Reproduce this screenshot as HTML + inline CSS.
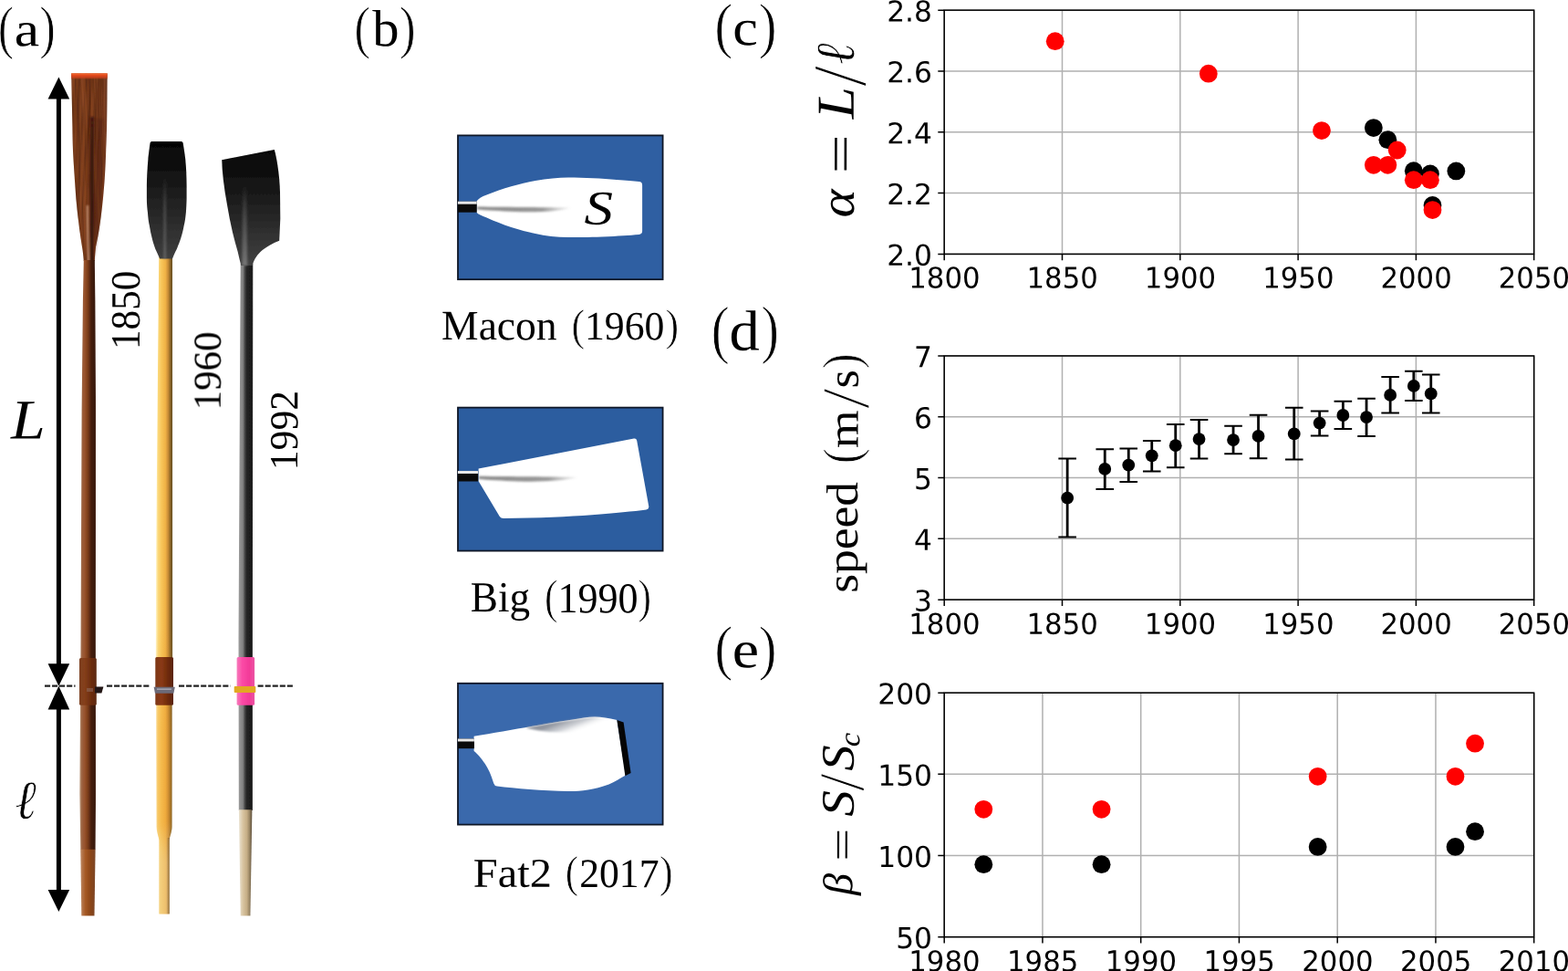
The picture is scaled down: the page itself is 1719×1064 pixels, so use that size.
<!DOCTYPE html>
<html lang="en">
<head>
<meta charset="utf-8">
<title>Oar evolution figure</title>
<style>
html,body{margin:0;padding:0;background:#fff;}
body{width:1719px;height:1064px;overflow:hidden;}
svg{display:block;}
text{white-space:pre;text-rendering:geometricPrecision;}
</style>
</head>
<body>
<svg width="1719" height="1064" viewBox="0 0 1719 1064">
<rect x="0" y="0" width="1719" height="1064" fill="#ffffff"/>
<defs>
<linearGradient id="o1blade" gradientUnits="userSpaceOnUse" x1="78" y1="0" x2="117.5" y2="0">
 <stop offset="0" stop-color="#8d5030"/><stop offset="0.06" stop-color="#7a3c1a"/><stop offset="0.2" stop-color="#6f3416"/>
 <stop offset="0.32" stop-color="#844220"/><stop offset="0.42" stop-color="#7a3a18"/><stop offset="0.5" stop-color="#6a3014"/>
 <stop offset="0.62" stop-color="#7e3e1c"/><stop offset="0.75" stop-color="#6c3216"/><stop offset="0.9" stop-color="#783a1e"/><stop offset="1" stop-color="#7a4630"/>
</linearGradient>
<linearGradient id="o1red" x1="0" y1="0" x2="0" y2="1">
 <stop offset="0" stop-color="#f4703c"/><stop offset="0.35" stop-color="#e2481c"/><stop offset="0.7" stop-color="#c8401a" stop-opacity="0.85"/><stop offset="1" stop-color="#8a3a18" stop-opacity="0"/>
</linearGradient>
<filter id="grain" x="0" y="0" width="100%" height="100%" color-interpolation-filters="sRGB">
 <feTurbulence type="fractalNoise" baseFrequency="0.42 0.018" numOctaves="2" seed="7" result="n"/>
 <feColorMatrix in="n" type="matrix" values="0 0 0 0 0.16  0 0 0 0 0.06  0 0 0 0 0.02  1.9 0 0 0 -0.62" result="d"/>
 <feComposite in="d" in2="SourceGraphic" operator="in"/>
</filter>
<filter id="grainL" x="0" y="0" width="100%" height="100%" color-interpolation-filters="sRGB">
 <feTurbulence type="fractalNoise" baseFrequency="0.5 0.02" numOctaves="2" seed="23" result="n"/>
 <feColorMatrix in="n" type="matrix" values="0 0 0 0 0.72  0 0 0 0 0.40  0 0 0 0 0.22  0 1.8 0 0 -0.72" result="d"/>
 <feComposite in="d" in2="SourceGraphic" operator="in"/>
</filter>
<linearGradient id="o1shaft" gradientUnits="userSpaceOnUse" x1="88" y1="0" x2="105.5" y2="0">
 <stop offset="0" stop-color="#b48c6e"/><stop offset="0.1" stop-color="#9c6240"/><stop offset="0.28" stop-color="#98522c"/>
 <stop offset="0.48" stop-color="#7a3c1a"/><stop offset="0.68" stop-color="#46200e"/><stop offset="0.88" stop-color="#38180c"/><stop offset="1" stop-color="#5c3c30"/>
</linearGradient>
<linearGradient id="o1sleeve" gradientUnits="userSpaceOnUse" x1="87" y1="0" x2="106" y2="0">
 <stop offset="0" stop-color="#7d4222"/><stop offset="0.3" stop-color="#853e1a"/><stop offset="0.7" stop-color="#6a2c0e"/><stop offset="1" stop-color="#5c2c14"/>
</linearGradient>
<linearGradient id="o1low" gradientUnits="userSpaceOnUse" x1="89" y1="0" x2="104" y2="0">
 <stop offset="0" stop-color="#b98058"/><stop offset="0.3" stop-color="#a65a26"/><stop offset="0.7" stop-color="#8a4418"/><stop offset="1" stop-color="#7d4626"/>
</linearGradient>
<linearGradient id="o2blade" x1="0" y1="0" x2="0" y2="1">
 <stop offset="0" stop-color="#040404"/><stop offset="0.3" stop-color="#141414"/><stop offset="1" stop-color="#3e3e3e"/>
</linearGradient>
<linearGradient id="o2shaft" gradientUnits="userSpaceOnUse" x1="171" y1="0" x2="189.5" y2="0">
 <stop offset="0" stop-color="#fff4c8"/><stop offset="0.13" stop-color="#fbd87a"/><stop offset="0.32" stop-color="#f8c65a"/>
 <stop offset="0.56" stop-color="#f0b246"/><stop offset="0.72" stop-color="#c88c36"/><stop offset="0.86" stop-color="#866226"/><stop offset="1" stop-color="#5e4a22"/>
</linearGradient>
<linearGradient id="o2sleeve" gradientUnits="userSpaceOnUse" x1="170" y1="0" x2="190" y2="0">
 <stop offset="0" stop-color="#7c3618"/><stop offset="0.35" stop-color="#8a3a14"/><stop offset="0.75" stop-color="#6a280c"/><stop offset="1" stop-color="#5a2810"/>
</linearGradient>
<linearGradient id="o2warm" gradientUnits="userSpaceOnUse" x1="0" y1="690" x2="0" y2="930">
 <stop offset="0" stop-color="#ee9c2a" stop-opacity="0"/><stop offset="0.45" stop-color="#ee9c2a" stop-opacity="0.28"/><stop offset="0.9" stop-color="#ee9c2a" stop-opacity="0.3"/><stop offset="1" stop-color="#ee9c2a" stop-opacity="0"/>
</linearGradient>
<linearGradient id="o2edge" gradientUnits="userSpaceOnUse" x1="182.6" y1="0" x2="186" y2="0">
 <stop offset="0" stop-color="#8a6a3a" stop-opacity="0"/><stop offset="1" stop-color="#7a5c30" stop-opacity="0.75"/>
</linearGradient>
<linearGradient id="o2low" gradientUnits="userSpaceOnUse" x1="0" y1="900" x2="0" y2="945">
 <stop offset="0" stop-color="#ecd4a4" stop-opacity="0"/><stop offset="1" stop-color="#ecd4a4" stop-opacity="0.42"/>
</linearGradient>
<linearGradient id="ridge2" gradientUnits="userSpaceOnUse" x1="0" y1="190" x2="0" y2="284">
 <stop offset="0" stop-color="#666" stop-opacity="0"/><stop offset="0.4" stop-color="#6a6a6a" stop-opacity="0.45"/><stop offset="1" stop-color="#777" stop-opacity="0.6"/>
</linearGradient>
<linearGradient id="ridge3" gradientUnits="userSpaceOnUse" x1="0" y1="200" x2="0" y2="291">
 <stop offset="0" stop-color="#666" stop-opacity="0"/><stop offset="0.4" stop-color="#6a6a6a" stop-opacity="0.45"/><stop offset="1" stop-color="#858585" stop-opacity="0.75"/>
</linearGradient>
<linearGradient id="o3blade" x1="0" y1="0" x2="0" y2="1">
 <stop offset="0" stop-color="#050505"/><stop offset="0.35" stop-color="#171717"/><stop offset="1" stop-color="#424242"/>
</linearGradient>
<linearGradient id="o3shaft" gradientUnits="userSpaceOnUse" x1="261.5" y1="0" x2="277.5" y2="0">
 <stop offset="0" stop-color="#9c9c9c"/><stop offset="0.3" stop-color="#808080"/><stop offset="0.42" stop-color="#4a4a4a"/>
 <stop offset="0.55" stop-color="#262626"/><stop offset="0.85" stop-color="#1c1c1c"/><stop offset="1" stop-color="#2a2a2a"/>
</linearGradient>
<linearGradient id="o3pink" gradientUnits="userSpaceOnUse" x1="259.5" y1="0" x2="279.5" y2="0">
 <stop offset="0" stop-color="#f77cbc"/><stop offset="0.3" stop-color="#fb4aa6"/><stop offset="0.7" stop-color="#f23a98"/><stop offset="1" stop-color="#ea58a4"/>
</linearGradient>
<linearGradient id="o3handle" gradientUnits="userSpaceOnUse" x1="262.5" y1="0" x2="275.5" y2="0">
 <stop offset="0" stop-color="#e8dfcc"/><stop offset="0.3" stop-color="#d8c4a0"/><stop offset="0.62" stop-color="#c6ae86"/><stop offset="0.84" stop-color="#9c8866"/><stop offset="1" stop-color="#6e5e48"/>
</linearGradient>
<clipPath id="o2clip"><path d="M174.2 282L189 282L189.1 720L188.6 772L188.5 906C188.3 913 186 916 185.7 921L185.7 1001.6L174.4 1001.6L174.4 921C174 916 171.8 913 171.6 906L171.2 772L170.8 720L171.2 600L172.6 450Z"/></clipPath>
<filter id="soft" x="-20%" y="-2%" width="140%" height="104%"><feGaussianBlur stdDeviation="0.65"/></filter>
<filter id="soft2" x="-50%" y="-5%" width="200%" height="110%"><feGaussianBlur stdDeviation="0.9"/></filter>
</defs>
<g id="panel-a">
<path d="M49 751.7H82.5M117 751.7H164.2M196 751.7H252.6M282.6 751.7H321" stroke="#222" stroke-width="2.2" stroke-dasharray="6.1 1.95" fill="none"/>
<path d="M64.4 100V735M64.4 770V985" stroke="#000" stroke-width="5" fill="none"/>
<path d="M64.4 84.6L76.2 108.4H52.6ZM64.4 751.7L52.6 727.2H76.2ZM64.4 751.7L76.2 777.4H52.6ZM64.4 999L52.6 974.9H76.2Z" fill="#000"/>
<g filter="url(#soft)">
<path d="M78.2 80.4H117.7L117.1 139C116.8 152 116.5 160 116.2 165.3C115.9 175 115.5 184 115 191.6C114.4 201 113.7 210 112.9 217.9C112 227 110.9 236 109.7 244.2C108.3 254 106.7 263 105 270.5C104.5 275 104 280 103.8 286L91.8 286C91.4 280 90.8 275 90 270.5C88.5 262 87.3 253 86.3 244.2C85.1 235 84.2 226 83.4 217.9C82.7 209 82.1 200 81.6 191.6C81 182 80.4 173 80 165.3C79.7 157 79.5 148 79.4 139Z" fill="url(#o1blade)"/>
<path d="M78.2 80.4H117.7L117.1 139C116.8 152 116.5 160 116.2 165.3C115.9 175 115.5 184 115 191.6C114.4 201 113.7 210 112.9 217.9C112 227 110.9 236 109.7 244.2C108.3 254 106.7 263 105 270.5C104.5 275 104 280 103.8 286L91.8 286C91.4 280 90.8 275 90 270.5C88.5 262 87.3 253 86.3 244.2C85.1 235 84.2 226 83.4 217.9C82.7 209 82.1 200 81.6 191.6C81 182 80.4 173 80 165.3C79.7 157 79.5 148 79.4 139Z" fill="#000" filter="url(#grain)" opacity="0.42"/>
<path d="M78.2 80.4H117.7L117.1 139C116.8 152 116.5 160 116.2 165.3C115.9 175 115.5 184 115 191.6C114.4 201 113.7 210 112.9 217.9C112 227 110.9 236 109.7 244.2C108.3 254 106.7 263 105 270.5C104.5 275 104 280 103.8 286L91.8 286C91.4 280 90.8 275 90 270.5C88.5 262 87.3 253 86.3 244.2C85.1 235 84.2 226 83.4 217.9C82.7 209 82.1 200 81.6 191.6C81 182 80.4 173 80 165.3C79.7 157 79.5 148 79.4 139Z" fill="#000" filter="url(#grainL)" opacity="0.4"/>
<path d="M99.2 128C99 180 98.8 240 98.6 290L102.6 290C103.4 240 103.4 180 102.8 128Z" fill="#36140a" opacity="0.9" filter="url(#soft2)"/>
<path d="M103 130C104 180 104 230 103.4 286L109 250C111 225 112.5 200 113.5 170L114 130Z" fill="#4a1e0c" opacity="0.28" filter="url(#soft2)"/>
<path d="M94.8 225C95 250 95.8 275 96.4 294L98.4 294C97.8 275 97 250 96.8 225Z" fill="#e0ac8c" opacity="0.85" filter="url(#soft2)"/>
<rect x="78.2" y="80.2" width="39.5" height="7.2" fill="url(#o1red)"/>
<path d="M91.8 285L103.8 285L104.4 330L105.1 450L104.9 700L105.1 870L104.6 931L88.3 931L87.4 870L88.5 700L89.6 450L90.9 330Z" fill="url(#o1shaft)"/>
<path d="M88.3 930.7H104.6L103.5 1003.5H89.3Z" fill="url(#o1low)"/>
<rect x="87" y="721" width="18.8" height="51.7" rx="1.5" fill="url(#o1sleeve)"/>
<path d="M104 752.6H113.4L111.4 759.4H104Z" fill="#221612"/>
<path d="M95 754H102V758H95Z" fill="#8a6050" opacity="0.7"/>
</g>
<g filter="url(#soft)">
<path d="M174.2 282L189 282L189.1 720L188.6 772L188.5 906C188.3 913 186 916 185.7 921L185.7 1001.6L174.4 1001.6L174.4 921C174 916 171.8 913 171.6 906L171.2 772L170.8 720L171.2 600L172.6 450Z" fill="url(#o2shaft)"/>
<path d="M171 690H190V930H171Z" fill="url(#o2warm)" clip-path="url(#o2clip)"/>
<path d="M171 900H189V1001.6H171Z" fill="url(#o2low)" clip-path="url(#o2clip)"/>
<path d="M182.6 918H186V1001.6H182.6Z" fill="url(#o2edge)" clip-path="url(#o2clip)"/>
<path d="M166.3 155H198.8Q200.3 155 200.6 156.5C202 165 202.8 170 203.2 174.1C204.2 184 204.6 194 204.6 203.3L204.6 217.8C204.5 223 204.3 228 203.9 232.4C203.4 238 202.7 243 201.7 247C200.8 252 199.6 257 198.1 261.5C197.3 264 196.4 266.5 195.4 268.8C194.4 271.5 193.4 274 192.2 276.1C191.2 278.5 190.1 280.7 189 283.5L175.1 283.5C173.9 280.7 172.8 278.5 171.8 276.1C170.7 274 169.8 271.5 168.9 268.8C168.1 266.5 167.4 264 166.8 261.5C165.6 257 164.6 252 163.8 247C162.9 243 162.3 238 161.9 232.4C161.3 228 160.9 223 160.9 217.8L160.9 203.3C161 194 161.6 184 162.4 174.1C162.8 170 163.4 165 164.6 156.5Q164.9 155 166.3 155Z" fill="url(#o2blade)"/>
<path d="M179.2 190H182.2V284H179.2Z" fill="url(#ridge2)" filter="url(#soft2)"/>
<path d="M183.2 175V284" stroke="#000" stroke-width="2" opacity="0.75" filter="url(#soft2)"/>
<rect x="170.3" y="720" width="19.7" height="52.7" rx="1.5" fill="url(#o2sleeve)"/>
<path d="M168.6 752.8H191.8L190.4 759.8H170Z" fill="#6c6a78"/>
<path d="M172 755.2H188" stroke="#b8b8c4" stroke-width="1.4" opacity="0.8"/>
</g>
<g filter="url(#soft)">
<path d="M263.7 289L277.3 289L276.9 700L276.9 888L261.8 888L261.5 700Z" fill="url(#o3shaft)"/>
<path d="M243.2 175.3L300.8 163.9C302.5 170 303.6 176 304.4 181.4C306 192 306.8 202 307 210.6L307.3 239.7L306.2 263.7C302.5 265.2 299 266.8 295.7 268.8C291.8 271 288.4 273.4 285.5 276.1C283.2 278.3 281.2 280.7 279.6 283.4C278.4 285.6 277.4 288 276.7 291L264.3 291C263 286 261.8 281 260.7 276.1C258.6 268.8 256.7 261.5 254.9 254.2C252.7 244.6 250.7 234.9 249.1 225.1C247.3 215.4 245.8 205.7 244.7 196C243.9 189 243.4 182 243.2 175.3Z" fill="url(#o3blade)"/>
<path d="M266.2 200H270.2L271.2 291H265.4Z" fill="url(#ridge3)" filter="url(#soft2)"/>
<rect x="259.6" y="720" width="19.5" height="52.7" rx="1.5" fill="url(#o3pink)"/>
<rect x="256.7" y="752" width="23.6" height="7" rx="1" fill="#e2a822"/>
<path d="M261.9 887.3H276.4L274.4 1003.5H263.7Z" fill="url(#o3handle)"/>
</g>
<g id="label-a"><text transform="matrix(0.52163 0.00063 0 0.64721 -2.34584 51.65)" font-family="Liberation Serif, serif" font-size="100" fill="#000" stroke="#fff" stroke-width="1.5">(</text><text transform="matrix(0.61576 0.00114 0 0.53842 15.75 50.13)" font-family="Liberation Serif, serif" font-size="100" fill="#000">a</text><text transform="matrix(0.53149 0.00063 0 0.64685 43.28 51.46)" font-family="Liberation Serif, serif" font-size="100" fill="#000" stroke="#fff" stroke-width="1.5">)</text></g>
<g id="label-L"><text transform="matrix(0.6781 0.00082 0 0.6166 11.90 480.53)" font-family="Liberation Serif, serif" font-size="100" font-style="italic" fill="#000">L</text></g>
<g id="label-ell"><text transform="matrix(0.56641 0.00082 0 0.60035 16.21 896.95)" font-family="Liberation Serif, serif" font-size="100" font-style="italic" fill="#000" stroke="#fff" stroke-width="1.2">ℓ</text></g>
<g id="year-1850"><text transform="matrix(0.0008 -0.43184 0.45651 0 152.48 383.03)" font-family="Liberation Serif, serif" font-size="100" fill="#000">1850</text></g>
<g id="year-1960"><text transform="matrix(0.0008 -0.43067 0.4311 0 242.08 449.43)" font-family="Liberation Serif, serif" font-size="100" fill="#000">1960</text></g>
<g id="year-1992"><text transform="matrix(0.00081 -0.43581 0.44047 0 326.07 515.19)" font-family="Liberation Serif, serif" font-size="100" fill="#000">1992</text></g>
</g>
<defs>
<linearGradient id="spine1" gradientUnits="userSpaceOnUse" x1="522" y1="0" x2="626" y2="0">
 <stop offset="0" stop-color="#666" stop-opacity="0.75"/><stop offset="0.7" stop-color="#808080" stop-opacity="0.8"/><stop offset="1" stop-color="#999" stop-opacity="0.1"/>
</linearGradient>
<linearGradient id="spine2" gradientUnits="userSpaceOnUse" x1="524" y1="0" x2="634" y2="0">
 <stop offset="0" stop-color="#666" stop-opacity="0.75"/><stop offset="0.7" stop-color="#808080" stop-opacity="0.8"/><stop offset="1" stop-color="#999" stop-opacity="0.1"/>
</linearGradient>
<linearGradient id="shade3" gradientUnits="userSpaceOnUse" x1="622" y1="788" x2="628" y2="804">
 <stop offset="0" stop-color="#858a94" stop-opacity="0.9"/><stop offset="0.5" stop-color="#b0b4bc" stop-opacity="0.6"/><stop offset="1" stop-color="#fff" stop-opacity="0"/>
</linearGradient>
<filter id="blur1" x="-10%" y="-60%" width="120%" height="220%"><feGaussianBlur stdDeviation="0.8"/></filter>
<filter id="blurS" x="-5%" y="-5%" width="110%" height="110%"><feGaussianBlur stdDeviation="0.5"/></filter>
</defs>
<g id="panel-b">
<rect x="502.0" y="148.4" width="224.6" height="157.8" fill="#2f5fa2" stroke="#0e1626" stroke-width="1.8"/>
<path d="M522.5 220.5C524 218 528 215.5 533.6 213.5C551 206.5 570 201 587 198C600 195.8 612 194.8 623 194.6C640 194.6 660 195.8 676 197C686 197.8 694 198.4 700.5 199Q704.1 199.3 704.1 202.8L704.1 253.3Q704.1 256.6 700.5 257C690 258 678 258.7 660 259.5C645 260 632 260 623 260C610 259.8 598 258.6 587 256C570 252.5 551 246.5 533.6 238.5C528 236.5 524 234.5 522.5 232.7Z" fill="#fff" filter="url(#blurS)"/>
<path d="M523 226.6C560 227 600 227.2 626 227.8C612 231.6 590 233 565 232C548 231.4 532 230.4 523 229.6Z" fill="url(#spine1)" filter="url(#blur1)"/>
<rect x="501.9" y="220.7" width="20.8" height="12" fill="#0a0a0a"/><rect x="501.9" y="220.7" width="20.8" height="3" fill="#e8e8e8"/>
<g id="label-S"><text transform="matrix(0.63065 0.00081 0 0.53072 640.61 245.64)" font-family="Liberation Serif, serif" font-size="100" font-style="italic" fill="#000">S</text></g>
<g id="label-macon"><text transform="matrix(0.45557 0.00081 0 0.46134 484.12 372.03)" font-family="Liberation Serif, serif" font-size="100" fill="#000">Macon </text><text transform="matrix(0.4424 0.00062 0 0.49026 626.60 372.74)" font-family="Liberation Serif, serif" font-size="100" fill="#000" stroke="#fff" stroke-width="1.5">(</text><text transform="matrix(0.43768 0.0008 0 0.4422 640.97 372.04)" font-family="Liberation Serif, serif" font-size="100" fill="#000">1960</text><text transform="matrix(0.43855 0.00062 0 0.48963 729.44 372.73)" font-family="Liberation Serif, serif" font-size="100" fill="#000" stroke="#fff" stroke-width="1.5">)</text></g>
<rect x="502.0" y="446.6" width="224.6" height="157.0" fill="#2c5d9f" stroke="#0e1626" stroke-width="1.8"/>
<path d="M524.6 513.6L695 480.6Q697.6 480.2 698.2 482.8L711.2 554.5Q711.8 557.8 708.5 558.5C680 562 630 567.3 552 568Q549 568 547.8 566L524.6 527.3Z" fill="#fff" filter="url(#blurS)"/>
<path d="M525 521.8C560 522.2 605 522.4 633 523C617 527 593 528.2 568 527.4C550 526.8 534 525.8 525 525Z" fill="url(#spine2)" filter="url(#blur1)"/>
<rect x="501.9" y="516" width="22.3" height="11.5" fill="#0a0a0a"/><rect x="501.9" y="516" width="22.3" height="3" fill="#e8e8e8"/>
<g id="label-big"><text transform="matrix(0.45226 0.00062 0 0.47041 515.81 670.05)" font-family="Liberation Serif, serif" font-size="100" fill="#000">Big </text><text transform="matrix(0.43615 0.00062 0 0.52503 597.04 671.60)" font-family="Liberation Serif, serif" font-size="100" fill="#000" stroke="#fff" stroke-width="1.5">(</text><text transform="matrix(0.44069 0.0008 0 0.46886 611.52 671.12)" font-family="Liberation Serif, serif" font-size="100" fill="#000">1990</text><text transform="matrix(0.43525 0.00062 0 0.51951 699.62 671.17)" font-family="Liberation Serif, serif" font-size="100" fill="#000" stroke="#fff" stroke-width="1.5">)</text></g>
<rect x="502.0" y="748.8" width="224.6" height="154.8" fill="#3a69ac" stroke="#0e1626" stroke-width="1.8"/>
<path d="M519.6 806.8C560 800 610 791 640 786.5C652 784.5 662 785.5 676.4 788.9L686 849.5C680 853 674 856.5 667.5 859.5C650 866 635 867.3 622.9 867.1C595 866.5 565 864 545 861.5Q542 861 541.3 858.5C538 848 535 842 531.8 837.1C528 831 523 825.5 519.6 822.9Z" fill="#fff" filter="url(#blurS)"/>
<path d="M576 797.2C600 793 627 788.6 645 786.2C655 785.2 662 786 670 788C668 796.5 652 802 630 802.6C606 803 588 801 576 797.2Z" fill="url(#shade3)" filter="url(#blur1)"/>
<path d="M676.4 788.9L683.6 791.6L691.6 847L685.4 850.2Z" fill="#050505"/>
<rect x="501.9" y="809.5" width="18" height="10.7" fill="#0a0a0a"/><rect x="501.9" y="809.5" width="18" height="3" fill="#e8e8e8"/>
<g id="label-fat2"><text transform="matrix(0.48442 0.0008 0 0.4514 518.82 971.76)" font-family="Liberation Serif, serif" font-size="100" fill="#000">Fat2 </text><text transform="matrix(0.43264 0.00062 0 0.49472 619.81 971.95)" font-family="Liberation Serif, serif" font-size="100" fill="#000" stroke="#fff" stroke-width="1.5">(</text><text transform="matrix(0.43689 0.0008 0 0.44858 635.14 972.02)" font-family="Liberation Serif, serif" font-size="100" fill="#000">2017</text><text transform="matrix(0.45109 0.00062 0 0.49543 722.66 972.06)" font-family="Liberation Serif, serif" font-size="100" fill="#000" stroke="#fff" stroke-width="1.5">)</text></g>
<g id="label-b"><text transform="matrix(0.53884 0.00063 0 0.64247 388.20 51.50)" font-family="Liberation Serif, serif" font-size="100" fill="#000" stroke="#fff" stroke-width="1.5">(</text><text transform="matrix(0.58561 0.00077 0 0.56721 408.17 50.36)" font-family="Liberation Serif, serif" font-size="100" fill="#000">b</text><text transform="matrix(0.54198 0.00062 0 0.64233 437.64 51.49)" font-family="Liberation Serif, serif" font-size="100" fill="#000" stroke="#fff" stroke-width="1.5">)</text></g>
</g>
<g id="chart-c">
<path d="M1035.20 11.15V278.40M1164.50 11.15V278.40M1293.80 11.15V278.40M1423.10 11.15V278.40M1552.40 11.15V278.40M1681.70 11.15V278.40M1035.20 278.40H1681.70M1035.20 211.59H1681.70M1035.20 144.77H1681.70M1035.20 77.96H1681.70M1035.20 11.15H1681.70" stroke="#b0b0b0" stroke-width="1.5" fill="none"/>
<circle cx="1505.85" cy="140.10" r="9.9" fill="#000"/>
<circle cx="1521.37" cy="153.16" r="9.9" fill="#000"/>
<circle cx="1549.81" cy="187.20" r="9.9" fill="#000"/>
<circle cx="1567.92" cy="190.47" r="9.9" fill="#000"/>
<circle cx="1570.50" cy="224.95" r="9.9" fill="#000"/>
<circle cx="1596.36" cy="187.43" r="9.9" fill="#000"/>
<circle cx="1156.74" cy="45.22" r="9.9" fill="#ff0000"/>
<circle cx="1324.83" cy="80.63" r="9.9" fill="#ff0000"/>
<circle cx="1448.96" cy="143.10" r="9.9" fill="#ff0000"/>
<circle cx="1505.85" cy="180.79" r="9.9" fill="#ff0000"/>
<circle cx="1521.37" cy="180.79" r="9.9" fill="#ff0000"/>
<circle cx="1531.71" cy="164.52" r="9.9" fill="#ff0000"/>
<circle cx="1549.81" cy="197.16" r="9.9" fill="#ff0000"/>
<circle cx="1567.92" cy="197.16" r="9.9" fill="#ff0000"/>
<circle cx="1570.50" cy="230.06" r="9.9" fill="#ff0000"/>
<path d="M1035.20 278.40v6.9M1164.50 278.40v6.9M1293.80 278.40v6.9M1423.10 278.40v6.9M1552.40 278.40v6.9M1681.70 278.40v6.9M1035.20 278.40h-6.9M1035.20 211.59h-6.9M1035.20 144.77h-6.9M1035.20 77.96h-6.9M1035.20 11.15h-6.9" stroke="#000" stroke-width="1.5" fill="none"/>
<rect x="1035.20" y="11.15" width="646.50" height="267.25" fill="none" stroke="#000" stroke-width="1.5"/>
<g font-family="DejaVu Sans, Liberation Sans, sans-serif" font-size="31.5" fill="#000">
<text transform="matrix(0.977 0.0006 0 1 1035.40 315.60)" text-anchor="middle">1800</text>
<text transform="matrix(0.977 0.0006 0 1 1164.70 315.60)" text-anchor="middle">1850</text>
<text transform="matrix(0.977 0.0006 0 1 1294.00 315.60)" text-anchor="middle">1900</text>
<text transform="matrix(0.977 0.0006 0 1 1423.30 315.60)" text-anchor="middle">1950</text>
<text transform="matrix(0.977 0.0006 0 1 1552.60 315.60)" text-anchor="middle">2000</text>
<text transform="matrix(0.977 0.0006 0 1 1681.90 315.60)" text-anchor="middle">2050</text>
<text transform="matrix(0.994 0.0006 0 1 1022.00 290.80)" text-anchor="end">2.0</text>
<text transform="matrix(0.994 0.0006 0 1 1022.00 223.99)" text-anchor="end">2.2</text>
<text transform="matrix(0.994 0.0006 0 1 1022.00 157.17)" text-anchor="end">2.4</text>
<text transform="matrix(0.994 0.0006 0 1 1022.00 90.36)" text-anchor="end">2.6</text>
<text transform="matrix(0.994 0.0006 0 1 1022.00 23.55)" text-anchor="end">2.8</text>
</g>
</g>
<g id="chart-d">
<path d="M1035.20 389.95V657.15M1164.50 389.95V657.15M1293.80 389.95V657.15M1423.10 389.95V657.15M1552.40 389.95V657.15M1681.70 389.95V657.15M1035.20 657.15H1681.70M1035.20 590.35H1681.70M1035.20 523.55H1681.70M1035.20 456.75H1681.70M1035.20 389.95H1681.70" stroke="#b0b0b0" stroke-width="1.5" fill="none"/>
<path d="M1170.15 502.50V588.60M1211.25 492.20V536.10M1237.25 491.50V527.90M1262.75 482.90V516.50M1288.75 465.00V512.20M1314.55 460.00V502.50M1352.05 466.80V497.20M1379.55 454.70V502.20M1418.75 446.80V503.60M1446.65 450.40V477.50M1472.35 439.70V470.00M1498.05 436.80V477.90M1524.15 412.90V452.50M1549.85 406.80V439.00M1568.75 410.40V452.50" stroke="#000" stroke-width="2.8" fill="none"/>
<path d="M1160.35 502.50h19.6M1160.35 588.60h19.6M1201.45 492.20h19.6M1201.45 536.10h19.6M1227.45 491.50h19.6M1227.45 527.90h19.6M1252.95 482.90h19.6M1252.95 516.50h19.6M1278.95 465.00h19.6M1278.95 512.20h19.6M1304.75 460.00h19.6M1304.75 502.50h19.6M1342.25 466.80h19.6M1342.25 497.20h19.6M1369.75 454.70h19.6M1369.75 502.20h19.6M1408.95 446.80h19.6M1408.95 503.60h19.6M1436.85 450.40h19.6M1436.85 477.50h19.6M1462.55 439.70h19.6M1462.55 470.00h19.6M1488.25 436.80h19.6M1488.25 477.90h19.6M1514.35 412.90h19.6M1514.35 452.50h19.6M1540.05 406.80h19.6M1540.05 439.00h19.6M1558.95 410.40h19.6M1558.95 452.50h19.6" stroke="#000" stroke-width="2.0" fill="none"/>
<circle cx="1170.15" cy="545.70" r="6.9" fill="#000"/>
<circle cx="1211.25" cy="513.90" r="6.9" fill="#000"/>
<circle cx="1237.25" cy="509.60" r="6.9" fill="#000"/>
<circle cx="1262.75" cy="499.30" r="6.9" fill="#000"/>
<circle cx="1288.75" cy="488.20" r="6.9" fill="#000"/>
<circle cx="1314.55" cy="481.10" r="6.9" fill="#000"/>
<circle cx="1352.05" cy="482.10" r="6.9" fill="#000"/>
<circle cx="1379.55" cy="477.90" r="6.9" fill="#000"/>
<circle cx="1418.75" cy="475.40" r="6.9" fill="#000"/>
<circle cx="1446.65" cy="463.60" r="6.9" fill="#000"/>
<circle cx="1472.35" cy="455.00" r="6.9" fill="#000"/>
<circle cx="1498.05" cy="457.10" r="6.9" fill="#000"/>
<circle cx="1524.15" cy="432.90" r="6.9" fill="#000"/>
<circle cx="1549.85" cy="422.90" r="6.9" fill="#000"/>
<circle cx="1568.75" cy="431.40" r="6.9" fill="#000"/>
<path d="M1035.20 657.15v6.9M1164.50 657.15v6.9M1293.80 657.15v6.9M1423.10 657.15v6.9M1552.40 657.15v6.9M1681.70 657.15v6.9M1035.20 657.15h-6.9M1035.20 590.35h-6.9M1035.20 523.55h-6.9M1035.20 456.75h-6.9M1035.20 389.95h-6.9" stroke="#000" stroke-width="1.5" fill="none"/>
<rect x="1035.20" y="389.95" width="646.50" height="267.20" fill="none" stroke="#000" stroke-width="1.5"/>
<g font-family="DejaVu Sans, Liberation Sans, sans-serif" font-size="31.5" fill="#000">
<text transform="matrix(0.977 0.0006 0 1 1035.40 694.65)" text-anchor="middle">1800</text>
<text transform="matrix(0.977 0.0006 0 1 1164.70 694.65)" text-anchor="middle">1850</text>
<text transform="matrix(0.977 0.0006 0 1 1294.00 694.65)" text-anchor="middle">1900</text>
<text transform="matrix(0.977 0.0006 0 1 1423.30 694.65)" text-anchor="middle">1950</text>
<text transform="matrix(0.977 0.0006 0 1 1552.60 694.65)" text-anchor="middle">2000</text>
<text transform="matrix(0.977 0.0006 0 1 1681.90 694.65)" text-anchor="middle">2050</text>
<text transform="matrix(0.994 0.0006 0 1 1022.00 669.55)" text-anchor="end">3</text>
<text transform="matrix(0.994 0.0006 0 1 1022.00 602.75)" text-anchor="end">4</text>
<text transform="matrix(0.994 0.0006 0 1 1022.00 535.95)" text-anchor="end">5</text>
<text transform="matrix(0.994 0.0006 0 1 1022.00 469.15)" text-anchor="end">6</text>
<text transform="matrix(0.994 0.0006 0 1 1022.00 402.35)" text-anchor="end">7</text>
</g>
</g>
<g id="chart-e">
<path d="M1035.20 759.18V1026.69M1142.95 759.18V1026.69M1250.70 759.18V1026.69M1358.45 759.18V1026.69M1466.20 759.18V1026.69M1573.95 759.18V1026.69M1681.70 759.18V1026.69M1035.20 1026.69H1681.70M1035.20 937.52H1681.70M1035.20 848.35H1681.70M1035.20 759.18H1681.70" stroke="#b0b0b0" stroke-width="1.5" fill="none"/>
<circle cx="1078.30" cy="947.15" r="9.9" fill="#000"/>
<circle cx="1207.60" cy="947.15" r="9.9" fill="#000"/>
<circle cx="1444.65" cy="927.89" r="9.9" fill="#000"/>
<circle cx="1595.50" cy="927.89" r="9.9" fill="#000"/>
<circle cx="1617.05" cy="911.13" r="9.9" fill="#000"/>
<circle cx="1078.30" cy="886.87" r="9.9" fill="#ff0000"/>
<circle cx="1207.60" cy="886.87" r="9.9" fill="#ff0000"/>
<circle cx="1444.65" cy="850.85" r="9.9" fill="#ff0000"/>
<circle cx="1595.50" cy="850.85" r="9.9" fill="#ff0000"/>
<circle cx="1617.05" cy="814.64" r="9.9" fill="#ff0000"/>
<path d="M1035.20 1026.69v6.9M1142.95 1026.69v6.9M1250.70 1026.69v6.9M1358.45 1026.69v6.9M1466.20 1026.69v6.9M1573.95 1026.69v6.9M1681.70 1026.69v6.9M1035.20 1026.69h-6.9M1035.20 937.52h-6.9M1035.20 848.35h-6.9M1035.20 759.18h-6.9" stroke="#000" stroke-width="1.5" fill="none"/>
<rect x="1035.20" y="759.18" width="646.50" height="267.51" fill="none" stroke="#000" stroke-width="1.5"/>
<g font-family="DejaVu Sans, Liberation Sans, sans-serif" font-size="31.5" fill="#000">
<text transform="matrix(0.977 0.0006 0 1 1035.40 1064.39)" text-anchor="middle">1980</text>
<text transform="matrix(0.977 0.0006 0 1 1143.15 1064.39)" text-anchor="middle">1985</text>
<text transform="matrix(0.977 0.0006 0 1 1250.90 1064.39)" text-anchor="middle">1990</text>
<text transform="matrix(0.977 0.0006 0 1 1358.65 1064.39)" text-anchor="middle">1995</text>
<text transform="matrix(0.977 0.0006 0 1 1466.40 1064.39)" text-anchor="middle">2000</text>
<text transform="matrix(0.977 0.0006 0 1 1574.15 1064.39)" text-anchor="middle">2005</text>
<text transform="matrix(0.977 0.0006 0 1 1681.90 1064.39)" text-anchor="middle">2010</text>
<text transform="matrix(0.994 0.0006 0 1 1022.00 1039.09)" text-anchor="end">50</text>
<text transform="matrix(0.994 0.0006 0 1 1022.00 949.92)" text-anchor="end">100</text>
<text transform="matrix(0.994 0.0006 0 1 1022.00 860.75)" text-anchor="end">150</text>
<text transform="matrix(0.994 0.0006 0 1 1022.00 771.58)" text-anchor="end">200</text>
</g>
</g>
<g id="label-c"><text transform="matrix(0.60618 0.00062 0 0.68023 783.21 50.79)" font-family="Liberation Serif, serif" font-size="100" fill="#000" stroke="#fff" stroke-width="1.5">(</text><text transform="matrix(0.6222 0.00113 0 0.56514 803.32 49.30)" font-family="Liberation Serif, serif" font-size="100" fill="#000">c</text><text transform="matrix(0.60604 0.00062 0 0.68204 831.62 50.83)" font-family="Liberation Serif, serif" font-size="100" fill="#000" stroke="#fff" stroke-width="1.5">)</text></g>
<g id="label-d"><text transform="matrix(0.61264 0.00063 0 0.71275 779.44 384.74)" font-family="Liberation Serif, serif" font-size="100" fill="#000" stroke="#fff" stroke-width="1.5">(</text><text transform="matrix(0.66592 0.00076 0 0.62379 799.44 383.40)" font-family="Liberation Serif, serif" font-size="100" fill="#000">d</text><text transform="matrix(0.59775 0.00063 0 0.71436 834.22 384.58)" font-family="Liberation Serif, serif" font-size="100" fill="#000" stroke="#fff" stroke-width="1.5">)</text></g>
<g id="label-e"><text transform="matrix(0.60931 0.00062 0 0.67148 783.36 732.27)" font-family="Liberation Serif, serif" font-size="100" fill="#000" stroke="#fff" stroke-width="1.5">(</text><text transform="matrix(0.6605 0.00113 0 0.57755 802.63 731.31)" font-family="Liberation Serif, serif" font-size="100" fill="#000">e</text><text transform="matrix(0.60464 0.00062 0 0.66976 831.58 732.14)" font-family="Liberation Serif, serif" font-size="100" fill="#000" stroke="#fff" stroke-width="1.5">)</text></g>
<g id="ylabel-c"><text transform="matrix(0.00113 -0.58852 0.53574 0 936.05 238.54)" font-family="Liberation Serif, serif" font-size="100" font-style="italic" fill="#000">α </text><text transform="matrix(0.00215 -0.76365 0.52444 0 938.96 190.36)" font-family="Liberation Serif, serif" font-size="100" fill="#000">= </text><text transform="matrix(0.00083 -0.63048 0.5821 0 935.79 130.37)" font-family="Liberation Serif, serif" font-size="100" font-style="italic" fill="#000">L</text><text transform="matrix(0.00083 -0.83312 0.84264 0 948.99 95.05)" font-family="Liberation Serif, serif" font-size="100" fill="#000" stroke="#fff" stroke-width="1.7">/</text><text transform="matrix(0.00081 -0.5635 0.6014 0 936.37 70.76)" font-family="Liberation Serif, serif" font-size="100" font-style="italic" fill="#000" stroke="#fff" stroke-width="1.2">ℓ</text></g>
<g id="ylabel-d"><text transform="matrix(0.0006 -0.53499 0.4903 0 939.91 649.87)" font-family="Liberation Serif, serif" font-size="100" fill="#000">speed </text><text transform="matrix(0.00062 -0.49959 0.56608 0 941.59 507.98)" font-family="Liberation Serif, serif" font-size="100" fill="#000" stroke="#fff" stroke-width="1.5">(</text><text transform="matrix(0.00115 -0.53724 0.47549 0 940.57 491.27)" font-family="Liberation Serif, serif" font-size="100" fill="#000">m</text><text transform="matrix(0.00083 -0.81782 0.74404 0 952.24 448.07)" font-family="Liberation Serif, serif" font-size="100" fill="#000" stroke="#fff" stroke-width="1.7">/</text><text transform="matrix(0.00113 -0.5224 0.48389 0 940.65 425.52)" font-family="Liberation Serif, serif" font-size="100" fill="#000">s</text><text transform="matrix(0.00063 -0.49327 0.5736 0 941.32 403.89)" font-family="Liberation Serif, serif" font-size="100" fill="#000" stroke="#fff" stroke-width="1.5">)</text></g>
<g id="ylabel-e"><text transform="matrix(0.00059 -0.48356 0.45686 0 934.23 981.03)" font-family="Liberation Serif, serif" font-size="100" font-style="italic" fill="#000">β </text><text transform="matrix(0.00215 -0.64094 0.44123 0 937.99 943.82)" font-family="Liberation Serif, serif" font-size="100" fill="#000">= </text><text transform="matrix(0.0008 -0.57388 0.51125 0 935.72 894.64)" font-family="Liberation Serif, serif" font-size="100" font-style="italic" fill="#000">S</text><text transform="matrix(0.00083 -0.70725 0.7095 0 946.64 867.11)" font-family="Liberation Serif, serif" font-size="100" fill="#000" stroke="#fff" stroke-width="1.7">/</text><text transform="matrix(0.00081 -0.56593 0.51164 0 935.71 844.77)" font-family="Liberation Serif, serif" font-size="100" font-style="italic" fill="#000">S</text><text transform="matrix(0.00113 -0.34549 0.32029 0 942.22 818.13)" font-family="Liberation Serif, serif" font-size="100" font-style="italic" fill="#000">c</text></g>
</svg>
</body>
</html>
